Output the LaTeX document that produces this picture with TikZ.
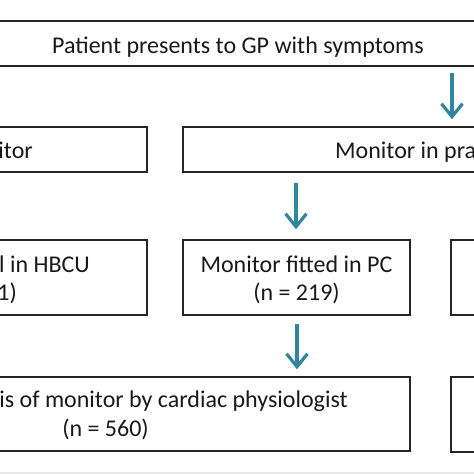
\documentclass[tikz,border=0pt]{standalone}
\usepackage{fontspec}
\setmainfont{Carlito}
\usetikzlibrary{arrows.meta}
\definecolor{boxc}{HTML}{262626}
\definecolor{teal1}{HTML}{31859C}
\begin{document}
\begin{tikzpicture}[x=1pt,y=-1pt,
  box/.style={draw=boxc, line width=1.5pt, rectangle, inner sep=0pt},
  lbl/.style={font=\fontsize{24}{29}\selectfont, inner sep=0pt, text=black!90},
  arr/.style={draw=teal1, line width=3.2pt, -{Straight Barb[length=13pt,width=21pt,line width=3.2pt]}}]
\useasboundingbox (0,0) rectangle (474,474);
\clip (0,0) rectangle (474,474);
\fill[gray!18] (0,472) rectangle (474,474);
% boxes
\node[box, minimum width=514pt, minimum height=45pt] (top) at (237,43.5) {};
\node[box, minimum width=347pt, minimum height=45pt] (r2l) at (-26.5,149.5) {};
\node[box, minimum width=517pt, minimum height=45pt] (r2r) at (441.5,149.5) {};
\node[box, minimum width=347pt, minimum height=75pt] (r3l) at (-26.5,277.5) {};
\node[box, minimum width=227pt, minimum height=75pt] (r3m) at (296.5,277.5) {};
\node[box, minimum width=249pt, minimum height=75pt] (r3r) at (575.5,277.5) {};
\node[box, minimum width=609pt, minimum height=74pt] (r4l) at (105.5,414) {};
\node[box, minimum width=249pt, minimum height=75pt] (r4r) at (575.5,414.5) {};
% texts
\node[lbl, anchor=base] (t1) at (238,53) {Patient presents to GP with symptoms};
\node[lbl, anchor=base east] (t2) at (33,158) {itor};
\node[lbl, anchor=base west] (t3) at (335,158) {Monitor in pra};
\node[lbl, anchor=base] (t4a) at (296.5,272) {Monitor fitted in PC};
\node[lbl, anchor=base] (t4b) at (296.5,300) {(n = 219)};
\node[lbl, anchor=base west] (t5a) at (-1,272) {l in HBCU};
\node[lbl, anchor=base east] (t5b) at (17,300) {1)};
\node[lbl, anchor=base east] (t6a) at (348,407) {is of monitor by cardiac physiologist};
\node[lbl, anchor=base] (t6b) at (105.5,436) {(n = 560)};
% arrows
\coordinate (a1) at (452,0);
\coordinate (a2) at (296,0);
\coordinate (a3) at (297,0);
\draw[arr] ([yshift=-6pt]top.south -| a1) -- ([yshift=7pt]r2r.north -| a1);
\draw[arr] ([yshift=-10pt]r2r.south -| a2) -- ([yshift=10pt]r3m.north -| a2);
\draw[arr] ([yshift=-8pt]r3m.south -| a3) -- ([yshift=7pt]r4l.north -| a3);
\end{tikzpicture}
\end{document}
